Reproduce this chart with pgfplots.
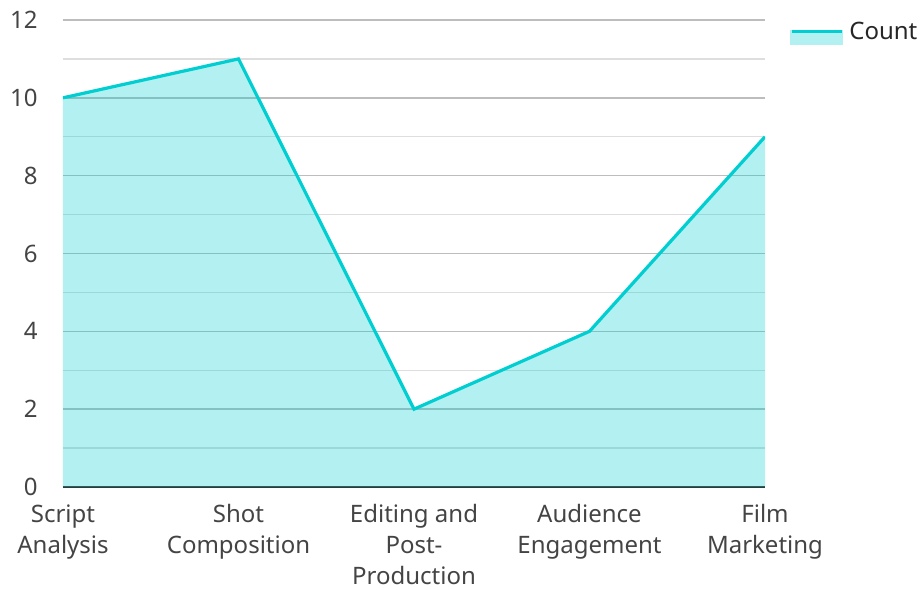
\documentclass[border=0pt]{standalone}
\usepackage{pgfplots}
\pgfplotsset{compat=1.18}
\usepackage{fontspec}
\setmainfont{Noto Sans}
\definecolor{linec}{HTML}{00CED1}
\definecolor{tickc}{HTML}{444444}
\definecolor{gridc}{HTML}{BDBDBD}
\definecolor{gridm}{HTML}{DEDEDE}
\definecolor{axc}{HTML}{333333}

\begin{document}
\begin{tikzpicture}
\begin{axis}[
    scale only axis,
    width=702bp, height=467bp,
    xmin=0, xmax=4, ymin=0, ymax=12,
    xtick={0,1,2,3,4},
    xticklabels={{Script\\Analysis},{Shot\\Composition},{Editing and\\Post-\\Production},{Audience\\Engagement},{Film\\Marketing}},
    ytick={0,2,...,12},
    minor ytick={1,3,...,11},
    ymajorgrids, yminorgrids,
    major grid style={draw=gridc, line width=1.5bp},
    minor grid style={draw=gridm, line width=1.5bp},
    axis x line*=bottom, axis y line*=left,
    x axis line style={draw=axc, line width=2bp, -},
    y axis line style={draw=none},
    major tick length=0pt, minor tick length=0pt,
    /pgf/number format/assume math mode=true,
    ticklabel style={font=\fontsize{24bp}{31bp}\selectfont, text=tickc},
    xticklabel style={align=center, yshift=-14bp},
    yticklabel style={xshift=-22bp},
    legend style={at={(1.0356,1)}, anchor=north west, draw=none, fill=none,
        font=\fontsize{24bp}{31bp}\selectfont, text=black!85, inner sep=0pt,
        /tikz/every odd column/.append style={column sep=4bp}},
    legend cell align=left,
    legend image code/.code={
        \fill[linec!30] (0bp,-12bp) rectangle (50bp,0bp);
        \draw[linec, line width=3bp] (0bp,0bp) -- (50bp,0bp);
    },
]
\addplot[fill=linec, fill opacity=0.3, draw=none, forget plot]
    coordinates {(0,10) (1,11) (2,2) (3,4) (4,9)} \closedcycle;
\addplot[linec, line width=3.2bp]
    coordinates {(0,10) (1,11) (2,2) (3,4) (4,9)};
\addlegendentry{Count}
\end{axis}
\pgfresetboundingbox
\path (-63bp,-103bp) rectangle (860bp,487bp);
\end{tikzpicture}
\end{document}
